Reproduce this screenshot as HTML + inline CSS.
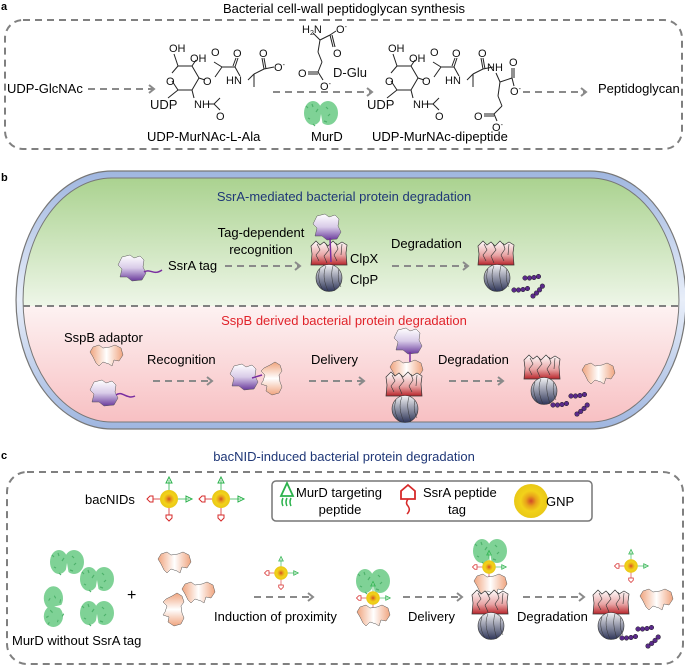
<!DOCTYPE html>
<html><head><meta charset="utf-8">
<style>
html,body{margin:0;padding:0;background:#fff;}
svg{display:block;font-family:"Liberation Sans",Arial,sans-serif;}
</style></head>
<body>
<svg width="685" height="666" viewBox="0 0 685 666" xmlns="http://www.w3.org/2000/svg">
<defs>
  <linearGradient id="gTop" x1="0" y1="0" x2="0" y2="1">
    <stop offset="0" stop-color="#a6d08a"/><stop offset="1" stop-color="#eef6e8"/>
  </linearGradient>
  <linearGradient id="gBot" x1="0" y1="0" x2="0" y2="1">
    <stop offset="0" stop-color="#fdf2f2"/><stop offset="1" stop-color="#f7bcbf"/>
  </linearGradient>
  <linearGradient id="gRim" x1="0" y1="0" x2="0" y2="1">
    <stop offset="0" stop-color="#9fb6e0"/><stop offset="0.5" stop-color="#e8eef9"/><stop offset="1" stop-color="#9fb6e0"/>
  </linearGradient>
  <linearGradient id="gX" x1="0" y1="0" x2="0" y2="1">
    <stop offset="0" stop-color="#ffffff"/><stop offset="0.6" stop-color="#e8a3a3"/><stop offset="1" stop-color="#b8252b"/>
  </linearGradient>
  <linearGradient id="gP" x1="0" y1="0" x2="0" y2="1">
    <stop offset="0" stop-color="#f4f4f6"/><stop offset="1" stop-color="#2e3558"/>
  </linearGradient>
  <linearGradient id="gPur" x1="0" y1="0" x2="0" y2="1">
    <stop offset="0" stop-color="#ffffff"/><stop offset="0.5" stop-color="#d8cbe8"/><stop offset="1" stop-color="#6a3a9c"/>
  </linearGradient>
  <linearGradient id="gOr" x1="0" y1="0" x2="1" y2="0">
    <stop offset="0" stop-color="#f0a47e"/><stop offset="0.5" stop-color="#ffffff"/><stop offset="1" stop-color="#f0a47e"/>
  </linearGradient>
  <radialGradient id="gNP">
    <stop offset="0" stop-color="#d2482a"/><stop offset="0.3" stop-color="#e8a21a"/><stop offset="0.6" stop-color="#f2d21a"/><stop offset="1" stop-color="#e9c817"/>
  </radialGradient>
  <marker id="ah" markerWidth="8" markerHeight="10" refX="6" refY="5" orient="auto" markerUnits="userSpaceOnUse">
    <polyline points="1,1 6,5 1,9" fill="none" stroke="#8a8a8a" stroke-width="2"/>
  </marker>

  <g id="clpx">
    <path d="M0,5 L5,0 L9,4 L13,1 L17,5 L22,0 L26,4 L31,1 L36,4 L35,12 L36,24 L0,24 L1,13 Z" fill="url(#gX)" stroke="#333" stroke-width="0.7"/>
    <path d="M6,3 L9,9 L5,14 L8,20 M15,3 L18,9 L13,15 L16,22 M25,2 L27,8 L23,14 L26,20 M31,3 L30,14" fill="none" stroke="#333" stroke-width="0.6"/>
  </g>
  <g id="clpp">
    <ellipse cx="13" cy="13" rx="13" ry="13.5" fill="url(#gP)" stroke="#333" stroke-width="0.6"/>
    <path d="M4,4 C1,12 4,20 7,25 M10,1 C6,10 9,19 12,26 M17,1 C14,10 17,19 19,26 M23,4 C21,12 23,19 25,22" fill="none" stroke="#333" stroke-width="0.5"/>
  </g>
  <g id="pur">
    <path d="M4,2 L12,0 L16,3 L22,1 L26,5 L25,12 L28,18 L24,25 L14,26 L9,22 L2,22 L4,14 L0,10 Z" fill="url(#gPur)" stroke="#555" stroke-width="0.5"/>
  </g>
  <g id="orng">
    <path d="M3,2 L9,0 L13,3 L20,2 L25,0 L31,3 L33,10 L29,16 L24,15 L22,21 L19,19 L13,17 L9,21 L6,18 L3,12 L0,7 Z" fill="url(#gOr)" stroke="#555" stroke-width="0.5"/>
  </g>
  <g id="murd">
    <ellipse cx="9" cy="13" rx="9" ry="12" fill="#7fd296"/>
    <ellipse cx="24" cy="13" rx="10" ry="12" fill="#7fd296"/>
    <path d="M2,6 l2,2 m4,-4 l1,3 m5,2 l-2,3 m-8,6 l2,1 m16,-12 l2,2 m2,5 l-2,2 m-4,5 l3,1 m-14,2 l2,2" stroke="#4fb26c" stroke-width="1.2"/>
    <path d="M15,26 L17,14 L19,26 Z" fill="#fff"/>
  </g>
  <g id="np">
    <line x1="0" y1="0" x2="0" y2="-19" stroke="#2bb24c" stroke-width="0.8"/>
    <polygon points="0,-22 -3,-16 3,-16" fill="none" stroke="#2bb24c" stroke-width="1"/>
    <line x1="0" y1="0" x2="20" y2="0" stroke="#2bb24c" stroke-width="0.8"/>
    <polygon points="23,0 17,-3 17,3" fill="none" stroke="#2bb24c" stroke-width="1"/>
    <line x1="0" y1="0" x2="-16" y2="0" stroke="#d62a2a" stroke-width="0.8"/>
    <polygon points="-22,0 -19,-3 -16,-3 -16,3 -19,3" fill="#fff" stroke="#d62a2a" stroke-width="1"/>
    <line x1="0" y1="0" x2="0" y2="16" stroke="#d62a2a" stroke-width="0.8"/>
    <polygon points="0,22 -3,19 -3,16 3,16 3,19" fill="#fff" stroke="#d62a2a" stroke-width="1"/>
    <circle cx="0" cy="0" r="9" fill="url(#gNP)"/>
  </g>
  <g id="beads" fill="#5a2a8a" stroke="#222" stroke-width="0.5">
    <circle cx="0" cy="0" r="2.3"/><circle cx="4.5" cy="0" r="2.3"/><circle cx="9" cy="-0.5" r="2.3"/><circle cx="13.5" cy="-1.5" r="2.3"/>
  </g>
</defs>

<!-- ========== Panel a ========== -->
<text x="1" y="10" font-size="11" font-weight="bold">a</text>
<text x="344" y="13" font-size="13" text-anchor="middle">Bacterial cell-wall peptidoglycan synthesis</text>
<rect x="5" y="20" width="677" height="129" rx="18" fill="none" stroke="#808080" stroke-width="2" stroke-dasharray="7 5"/>
<text x="7" y="93" font-size="13">UDP-GlcNAc</text>
<line x1="88" y1="89" x2="154" y2="89" stroke="#8a8a8a" stroke-width="2" stroke-dasharray="7 5" marker-end="url(#ah)"/>

<g font-size="11" fill="#111">
<g id="s1" stroke="#222" stroke-width="1" fill="none">
  <polyline points="178,66 192,66 199,78 192,90 178,90 172,81"/>
  <line x1="172" y1="73" x2="178" y2="66"/>
  <line x1="178" y1="66" x2="174" y2="54"/>
  <line x1="192" y1="66" x2="196" y2="60"/>
  <line x1="199" y1="78" x2="205" y2="80"/>
  <line x1="178" y1="90" x2="168" y2="98"/>
  <line x1="192" y1="90" x2="194" y2="98"/>
  <line x1="206" y1="104" x2="214" y2="104"/><line x1="214" y1="104" x2="220" y2="110"/><line x1="214" y1="104" x2="220" y2="98"/>
  <line x1="215" y1="77" x2="222" y2="67"/><line x1="222" y1="67" x2="214" y2="62"/><line x1="222" y1="67" x2="235" y2="67"/>
  <line x1="235" y1="67" x2="238" y2="58"/><line x1="233" y1="66" x2="236" y2="58"/>
  <line x1="235" y1="67" x2="240" y2="76"/>
  <line x1="248" y1="80" x2="254" y2="74"/><line x1="254" y1="74" x2="254" y2="87"/><line x1="254" y1="74" x2="264" y2="69"/>
  <line x1="264" y1="69" x2="262" y2="58"/><line x1="266" y1="69" x2="264" y2="58"/><line x1="264" y1="69" x2="274" y2="67"/>
</g>
<text x="166" y="85">O</text>
<text x="169" y="52">OH</text>
<text x="190" y="62">OH</text>
<text x="203" y="85">O</text>
<text x="194" y="108">NH</text>
<text x="216" y="120">O</text>
<text x="211" y="56">O</text>
<text x="233" y="57">O</text>
<text x="226" y="84">HN</text>
<text x="259" y="57">O</text>
<text x="274" y="71">O<tspan font-size="7" dy="-4">-</tspan></text>
<text x="150" y="109" font-size="13">UDP</text>

<g stroke="#222" stroke-width="1" fill="none">
  <line x1="313" y1="33" x2="320" y2="40"/><line x1="320" y1="40" x2="330" y2="35"/>
  <line x1="330" y1="35" x2="336" y2="31"/><line x1="330" y1="35" x2="333" y2="47"/><line x1="332" y1="35" x2="335" y2="47"/>
  <line x1="320" y1="40" x2="318" y2="52"/><line x1="318" y1="52" x2="322" y2="62"/><line x1="322" y1="62" x2="318" y2="72"/>
  <line x1="318" y1="72" x2="308" y2="72"/><line x1="318" y1="74" x2="308" y2="74"/><line x1="318" y1="72" x2="323" y2="80"/>
</g>
<text x="302" y="33">H<tspan font-size="7" dy="2">2</tspan><tspan dy="-2">N</tspan></text>
<text x="336" y="33">O<tspan font-size="7" dy="-4">-</tspan></text>
<text x="333" y="57">O</text>
<text x="298" y="77">O</text>
<text x="320" y="90">O<tspan font-size="7" dy="-4">-</tspan></text>
<text x="333" y="77" font-size="13">D-Glu</text>

<use href="#s1" x="219" y="0"/>
<text x="385" y="85">O</text>
<text x="388" y="52">OH</text>
<text x="409" y="62">OH</text>
<text x="422" y="85">O</text>
<text x="413" y="108">NH</text>
<text x="435" y="120">O</text>
<text x="430" y="56">O</text>
<text x="452" y="57">O</text>
<text x="445" y="84">HN</text>
<text x="478" y="57">O</text>
<text x="487" y="71">NH</text>
<g stroke="#222" stroke-width="1" fill="none">
  <line x1="496" y1="73" x2="500" y2="82"/><line x1="500" y1="82" x2="512" y2="78"/>
  <line x1="512" y1="78" x2="512" y2="68"/><line x1="514" y1="78" x2="514" y2="68"/><line x1="512" y1="78" x2="514" y2="86"/>
  <line x1="500" y1="82" x2="498" y2="96"/><line x1="498" y1="96" x2="502" y2="106"/><line x1="502" y1="106" x2="494" y2="114"/>
  <line x1="494" y1="114" x2="484" y2="114"/><line x1="494" y1="116" x2="484" y2="116"/><line x1="494" y1="114" x2="497" y2="121"/>
</g>
<text x="509" y="66">O</text>
<text x="510" y="95">O<tspan font-size="7" dy="-4">-</tspan></text>
<text x="474" y="120">O</text>
<text x="492" y="131">O<tspan font-size="7" dy="-4">-</tspan></text>
<text x="367" y="109" font-size="13">UDP</text>
</g>

<line x1="273" y1="92" x2="372" y2="92" stroke="#8a8a8a" stroke-width="2" stroke-dasharray="7 5" marker-end="url(#ah)"/>
<line x1="523" y1="92" x2="586" y2="92" stroke="#8a8a8a" stroke-width="2" stroke-dasharray="7 5" marker-end="url(#ah)"/>
<use href="#murd" x="304" y="100"/>
<text x="598" y="93" font-size="13">Peptidoglycan</text>
<text x="147" y="141" font-size="13">UDP-MurNAc-L-Ala</text>
<text x="311" y="141" font-size="13">MurD</text>
<text x="372" y="141" font-size="13">UDP-MurNAc-dipeptide</text>

<!-- ========== Panel b ========== -->
<text x="1" y="181" font-size="11" font-weight="bold">b</text>
<path d="M112,171 L590,171 A96,129 0 0 1 590,429 L112,429 A96,129 0 0 1 112,171 Z" fill="url(#gRim)" stroke="#777" stroke-width="1.2"/>
<clipPath id="inner"><path d="M112,178 L590,178 A89,122 0 0 1 590,422 L112,422 A89,122 0 0 1 112,178 Z"/></clipPath>
<g clip-path="url(#inner)">
  <rect x="0" y="170" width="685" height="136" fill="url(#gTop)"/>
  <rect x="0" y="306" width="685" height="125" fill="url(#gBot)"/>
</g>
<path d="M112,178 L590,178 A89,122 0 0 1 590,422 L112,422 A89,122 0 0 1 112,178 Z" fill="none" stroke="#777" stroke-width="1"/>
<line x1="23" y1="306" x2="680" y2="306" stroke="#808080" stroke-width="2" stroke-dasharray="7 5"/>

<text x="344" y="201" font-size="13" text-anchor="middle" fill="#1f3777">SsrA-mediated bacterial protein degradation</text>
<text x="261" y="237" font-size="13" text-anchor="middle">Tag-dependent</text>
<text x="261" y="254" font-size="13" text-anchor="middle">recognition</text>
<use href="#pur" x="118" y="255"/>
<path d="M144,272 C150,268 154,276 162,270" fill="none" stroke="#7a2ea0" stroke-width="1.5"/>
<text x="168" y="270" font-size="13">SsrA tag</text>
<line x1="225" y1="266" x2="300" y2="266" stroke="#8a8a8a" stroke-width="2" stroke-dasharray="7 5" marker-end="url(#ah)"/>
<use href="#pur" x="313" y="214"/>
<use href="#clpx" x="311" y="241"/>
<line x1="330" y1="238" x2="331" y2="262" stroke="#7a2ea0" stroke-width="1.5"/>
<use href="#clpp" x="316" y="265"/>
<text x="350" y="263" font-size="13">ClpX</text>
<text x="350" y="284" font-size="13">ClpP</text>
<text x="391" y="248" font-size="13">Degradation</text>
<line x1="392" y1="266" x2="468" y2="266" stroke="#8a8a8a" stroke-width="2" stroke-dasharray="7 5" marker-end="url(#ah)"/>
<use href="#clpx" x="478" y="241"/>
<use href="#clpp" x="484" y="265"/>
<use href="#beads" x="525" y="278"/>
<use href="#beads" x="514" y="290"/>
<use href="#beads" x="533" y="296" transform="rotate(-40 533 296)"/>

<text x="344" y="325" font-size="13" text-anchor="middle" fill="#e0232a">SspB derived bacterial protein degradation</text>
<text x="64" y="342" font-size="13">SspB adaptor</text>
<use href="#orng" x="90" y="345"/>
<use href="#pur" x="90" y="380"/>
<path d="M116,395 C122,390 127,400 135,396" fill="none" stroke="#7a2ea0" stroke-width="1.5"/>
<text x="147" y="364" font-size="13">Recognition</text>
<line x1="153" y1="381" x2="212" y2="381" stroke="#8a8a8a" stroke-width="2" stroke-dasharray="7 5" marker-end="url(#ah)"/>
<use href="#pur" x="230" y="364"/>
<g transform="translate(282,362) rotate(90)"><use href="#orng" x="0" y="0"/></g>
<path d="M252,378 L262,375" stroke="#7a2ea0" stroke-width="1.5"/>
<text x="311" y="364" font-size="13">Delivery</text>
<line x1="309" y1="381" x2="364" y2="381" stroke="#8a8a8a" stroke-width="2" stroke-dasharray="7 5" marker-end="url(#ah)"/>
<use href="#pur" x="394" y="328"/>
<line x1="410" y1="352" x2="410" y2="364" stroke="#7a2ea0" stroke-width="1.5"/>
<use href="#orng" x="390" y="360"/>
<use href="#clpx" x="386" y="372"/>
<use href="#clpp" x="392" y="396"/>
<text x="438" y="364" font-size="13">Degradation</text>
<line x1="449" y1="381" x2="503" y2="381" stroke="#8a8a8a" stroke-width="2" stroke-dasharray="7 5" marker-end="url(#ah)"/>
<use href="#clpx" x="524" y="355"/>
<use href="#clpp" x="531" y="378"/>
<use href="#orng" x="582" y="363"/>
<use href="#beads" x="571" y="396"/>
<use href="#beads" x="553" y="405"/>
<use href="#beads" x="577" y="414" transform="rotate(-35 577 414)"/>

<!-- ========== Panel c ========== -->
<text x="1" y="459" font-size="11" font-weight="bold">c</text>
<text x="344" y="461" font-size="13" text-anchor="middle" fill="#1f3777">bacNID-induced bacterial protein degradation</text>
<rect x="7" y="472" width="676" height="192" rx="20" fill="none" stroke="#808080" stroke-width="2" stroke-dasharray="7 5"/>
<text x="85" y="504" font-size="13">bacNIDs</text>
<use href="#np" x="169" y="499"/>
<use href="#np" x="221" y="499"/>
<rect x="272" y="481" width="320" height="40" rx="4" fill="#fff" stroke="#777" stroke-width="1.5"/>
<polygon points="287,483 281,496 293,496" fill="none" stroke="#2bb24c" stroke-width="1.8"/>
<path d="M283,498 q-2,4 0,8 M287,498 q-2,4 0,8 M291,498 q-2,4 0,8" fill="none" stroke="#2bb24c" stroke-width="1.5"/>
<text x="296" y="497" font-size="13">MurD targeting</text>
<text x="340" y="514" font-size="13" text-anchor="middle">peptide</text>
<polygon points="408,485 401,491 401,499 415,499 415,491" fill="none" stroke="#d62a2a" stroke-width="1.8"/>
<path d="M408,499 q-3,4 0,7 q3,4 -1,8" fill="none" stroke="#d62a2a" stroke-width="1.5"/>
<text x="423" y="497" font-size="13">SsrA peptide</text>
<text x="457" y="514" font-size="13" text-anchor="middle">tag</text>
<circle cx="531" cy="501" r="17" fill="url(#gNP)"/>
<text x="546" y="506" font-size="13">GNP</text>

<use href="#murd" x="50" y="549"/>
<use href="#murd" x="80" y="566"/>
<g transform="translate(43,627) rotate(-90)"><use href="#murd" x="0" y="0" transform="scale(1.2,0.8)"/></g>
<use href="#murd" x="80" y="600"/>
<text x="127" y="600" font-size="16">+</text>
<use href="#orng" x="158" y="552"/>
<use href="#orng" x="182" y="582"/>
<g transform="translate(184,593) rotate(90)"><use href="#orng" x="0" y="0"/></g>
<text x="12" y="645" font-size="13">MurD without SsrA tag</text>

<g transform="translate(281,573) scale(0.75)"><use href="#np"/></g>
<line x1="254" y1="597" x2="313" y2="597" stroke="#8a8a8a" stroke-width="2" stroke-dasharray="7 5" marker-end="url(#ah)"/>
<text x="214" y="621" font-size="13">Induction of proximity</text>
<use href="#murd" x="356" y="568"/>
<g transform="translate(373,598) scale(0.75)"><use href="#np"/></g>
<use href="#orng" x="357" y="605"/>
<line x1="403" y1="597" x2="462" y2="597" stroke="#8a8a8a" stroke-width="2" stroke-dasharray="7 5" marker-end="url(#ah)"/>
<text x="408" y="621" font-size="13">Delivery</text>
<use href="#murd" x="473" y="538"/>
<g transform="translate(489,567) scale(0.75)"><use href="#np"/></g>
<use href="#orng" x="474" y="574"/>
<use href="#clpx" x="472" y="590"/>
<use href="#clpp" x="478" y="613"/>
<line x1="523" y1="597" x2="584" y2="597" stroke="#8a8a8a" stroke-width="2" stroke-dasharray="7 5" marker-end="url(#ah)"/>
<text x="517" y="621" font-size="13">Degradation</text>
<g transform="translate(631,566) scale(0.75)"><use href="#np"/></g>
<use href="#clpx" x="593" y="590"/>
<use href="#clpp" x="598" y="613"/>
<use href="#orng" x="640" y="589"/>
<use href="#beads" x="638" y="629"/>
<use href="#beads" x="622" y="638"/>
<use href="#beads" x="648" y="646" transform="rotate(-35 648 646)"/>
</svg>
</body></html>
